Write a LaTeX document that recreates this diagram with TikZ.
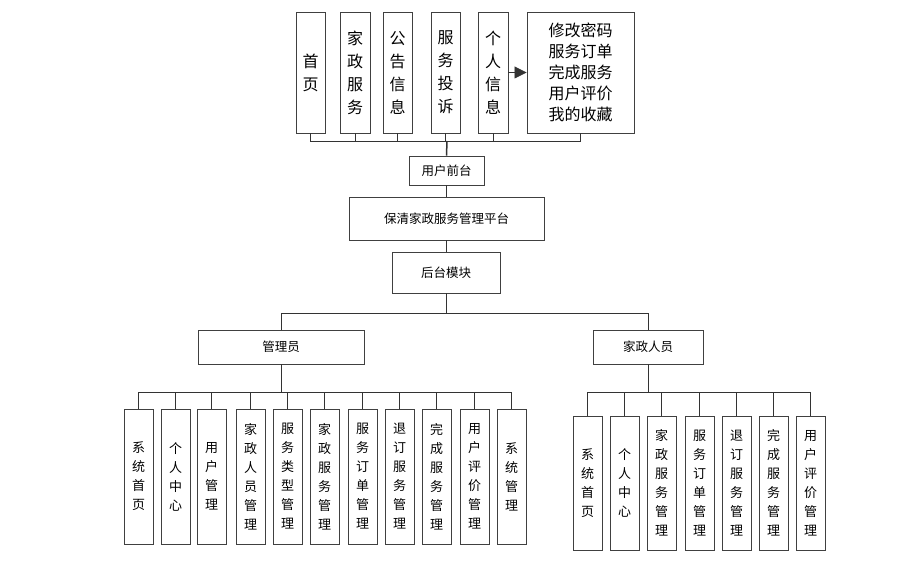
\documentclass[tikz,border=0pt]{standalone}
\usepackage{fontspec}
\setmainfont{Noto Sans CJK SC}
\usetikzlibrary{arrows.meta}
\begin{document}
\begin{tikzpicture}[x=1pt,y=-1pt,
 bx/.style={draw=black!75,line width=0.9pt,fill=white,inner sep=0pt,align=center},
 ln/.style={draw=black!80,line width=0.8pt}]
\useasboundingbox (0,0) rectangle (906,561);
\newcommand{\bb}[6]{\node[bx,minimum width=#3-#2,minimum height=#5-#4,font=#6] (#1) at ({(#2+#3)/2},{(#4+#5)/2})}
% top
\def\ft{\fontsize{16}{23}\selectfont}
\bb{t1}{296}{325}{12}{133}{\ft}{首\\页};
\bb{t2}{340}{370}{12}{133}{\ft}{家\\政\\服\\务};
\bb{t3}{383}{412}{12}{133}{\ft}{公\\告\\信\\息};
\bb{t4}{431}{460}{12}{133}{\ft}{服\\务\\投\\诉};
\bb{t5}{478}{508}{12}{133}{\ft}{个\\人\\信\\息};
\bb{t6}{527}{634}{12}{133}{\fontsize{16}{21}\selectfont}{修改密码\\服务订单\\完成服务\\用户评价\\我的收藏};
\draw[ln,-{Triangle[length=12pt,width=12pt]}] (t5.east) -- (t6.west);
\bb{qt}{409}{484}{156}{185}{\fontsize{12.5}{14}\selectfont}{用户前台};
\bb{pt}{349}{544}{197}{240}{\fontsize{12.5}{14}\selectfont}{保清家政服务管理平台};
\bb{ht}{392}{500}{252}{293}{\fontsize{12.5}{14}\selectfont}{后台模块};
\coordinate (tb) at (447,141);
\foreach \n in {t1,t2,t3,t4,t5,t6} \draw[ln] (\n.south) |- (tb);
\draw[ln,line width=1.5pt] (tb) -- (qt.north);
\draw[ln] (qt.south) -- (qt.south|-pt.north);
\draw[ln] (pt.south-|ht.north) -- (ht.north);
\bb{gl}{198}{364}{330}{364}{\fontsize{12.5}{14}\selectfont}{管理员};
\bb{jz}{593}{703}{330}{364}{\fontsize{12.5}{14}\selectfont}{家政人员};
\coordinate (hb) at (446,313);
\draw[ln] (ht.south) -- (hb);
\draw[ln] (hb) -| (gl.north);
\draw[ln] (hb) -| (jz.north);
% left bottom
\def\fb{\fontsize{13}{19}\selectfont}
\coordinate (lb) at (281,392);
\draw[ln] (gl.south) -- (lb);
\foreach \a/\t [count=\i] in {124/{系\\统\\首\\页},161/{个\\人\\中\\心},197/{用\\户\\管\\理},236/{家\\政\\人\\员\\管\\理},273/{服\\务\\类\\型\\管\\理},310/{家\\政\\服\\务\\管\\理},348/{服\\务\\订\\单\\管\\理},385/{退\\订\\服\\务\\管\\理},422/{完\\成\\服\\务\\管\\理},460/{用\\户\\评\\价\\管\\理},497/{系\\统\\管\\理}}{
 \bb{L\i}{\a}{\a+29}{409}{544}{\fb}{\t};
 \draw[ln] (L\i.north) |- (lb);
}
\coordinate (rb) at (648,392);
\draw[ln] (jz.south) -- (rb);
\foreach \a/\t [count=\i] in {573/{系\\统\\首\\页},610/{个\\人\\中\\心},647/{家\\政\\服\\务\\管\\理},685/{服\\务\\订\\单\\管\\理},722/{退\\订\\服\\务\\管\\理},759/{完\\成\\服\\务\\管\\理},796/{用\\户\\评\\价\\管\\理}}{
 \bb{R\i}{\a}{\a+29}{416}{550}{\fb}{\t};
 \draw[ln] (R\i.north) |- (rb);
}
\end{tikzpicture}
\end{document}
